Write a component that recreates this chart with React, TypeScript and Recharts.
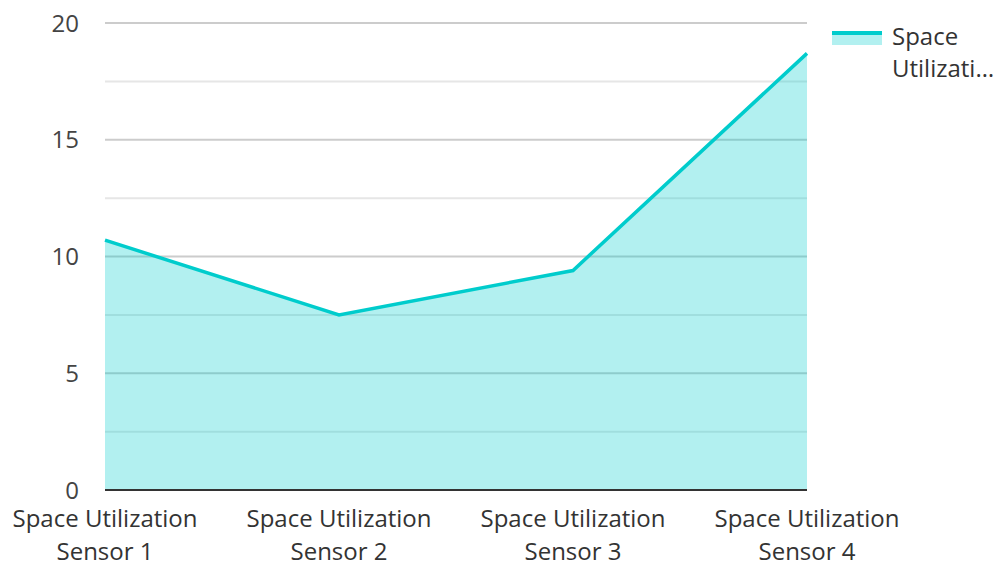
import React from 'react';
import { AreaChart, Area, XAxis, YAxis, CartesianGrid, Legend } from 'recharts';

const sensors = [
  'Space Utilization Sensor 1',
  'Space Utilization Sensor 2',
  'Space Utilization Sensor 3',
  'Space Utilization Sensor 4',
];
const utilization = [10.7, 7.5, 9.4, 18.7];
const yTicks = [0, 2.5, 5, 7.5, 10, 12.5, 15, 17.5, 20];
const seriesName = 'Space Utilization';

const data = sensors.map((name, i) => ({ name, value: utilization[i] }));

const FONT = '"Open Sans", sans-serif';
const TEAL = '#00cccc';

function SensorTick(props: any) {
  const { x, y, payload } = props;
  const words: string[] = String(payload.value).split(' ');
  return (
    <text x={x} y={y} textAnchor="middle" fill="#333" fontSize={24} fontFamily={FONT}>
      <tspan x={x} dy={29}>{words.slice(0, -2).join(' ')}</tspan>
      <tspan x={x} dy={33}>{words.slice(-2).join(' ')}</tspan>
    </text>
  );
}

function GridLine(props: any) {
  const { x1, x2, y1, y2, index } = props;
  const v = yTicks[index];
  if (v === 0) return <g />;
  const major = v % 5 === 0;
  return <line x1={x1} x2={x2} y1={y1} y2={y2} stroke={major ? '#cccccc' : '#e6e6e6'} strokeWidth={2} />;
}

function LegendBox() {
  const words = seriesName.split(' ');
  return (
    <div style={{ display: 'flex', fontFamily: FONT, fontSize: 24, color: '#333', lineHeight: '32px' }}>
      <svg width={50} height={20} style={{ marginTop: 9, marginRight: 10 }}>
        <rect x={0} y={4} width={50} height={12} fill={TEAL} fillOpacity={0.3} />
        <line x1={0} x2={50} y1={4} y2={4} stroke={TEAL} strokeWidth={4} />
      </svg>
      <div style={{ width: 108 }}>
        <div>{words[0]}</div>
        <div style={{ whiteSpace: 'nowrap', overflow: 'hidden', textOverflow: 'ellipsis' }}>{words.slice(1).join(' ')}</div>
      </div>
    </div>
  );
}

export default function App() {
  return (
    <div style={{ position: 'absolute', left: 0, top: 0, width: 999, height: 562, background: '#fff' }}>
      <AreaChart width={999} height={562} data={data} margin={{ top: 23, right: 192, bottom: 0, left: 0 }}>
        <CartesianGrid vertical={false} horizontal={(p: any) => <GridLine {...p} />} />
        <XAxis
          dataKey="name"
          tick={<SensorTick />}
          tickLine={false}
          axisLine={{ stroke: '#333', strokeWidth: 2 }}
          height={72}
          interval={0}
        />
        <YAxis
          domain={[0, 20]}
          ticks={yTicks}
          interval={0}
          width={105}
          axisLine={false}
          tickLine={false}
          tickMargin={20}
          tickFormatter={(v: number) => (v % 5 === 0 ? String(v) : '')}
          tick={{ fill: '#444', fontSize: 24, fontFamily: FONT }}
        />
        <Legend
          layout="horizontal"
          verticalAlign="middle"
          align="center"
          content={() => <LegendBox />}
          wrapperStyle={{ left: 832, top: 20, width: 170, height: 70 }}
        />
        <Area
          type="linear"
          dataKey="value"
          name={seriesName}
          stroke={TEAL}
          strokeWidth={3.5}
          fill={TEAL}
          fillOpacity={0.3}
          dot={false}
          activeDot={false}
          isAnimationActive={false}
        />
      </AreaChart>
    </div>
  );
}
